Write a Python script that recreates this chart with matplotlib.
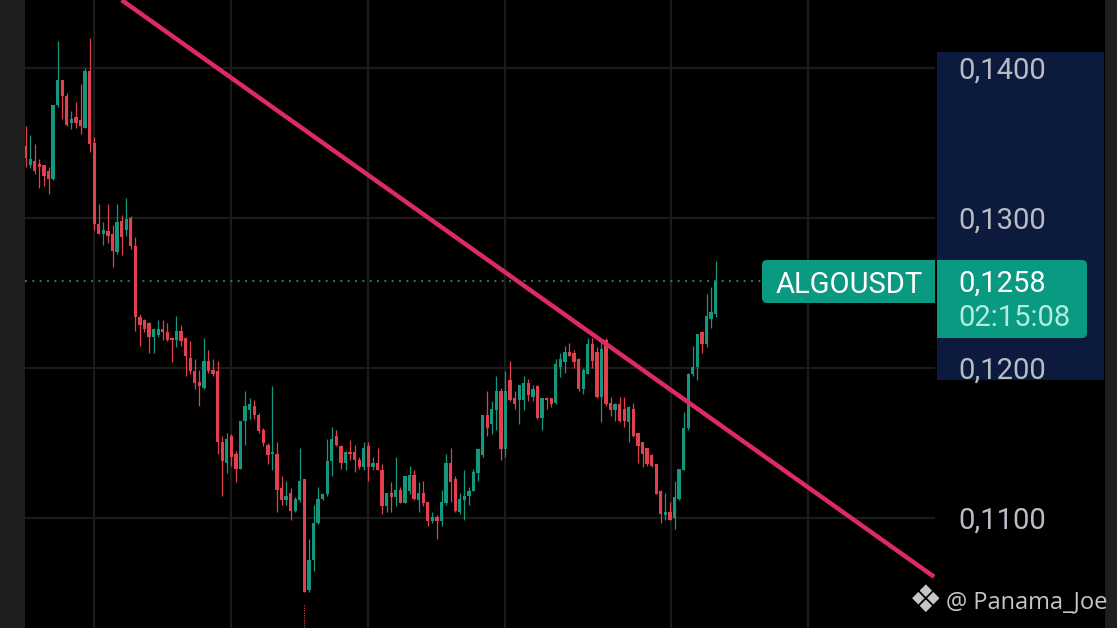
import matplotlib
matplotlib.use("Agg")
import matplotlib.pyplot as plt
from matplotlib.patches import Rectangle, FancyBboxPatch
from matplotlib.transforms import IdentityTransform
import numpy as np

# ---------------- data ----------------
symbol = "ALGOUSDT"
countdown = "02:15:08"
watermark = "@ Panama_Joe"

opens = [0.1348,0.1335,0.1338,0.1336,0.1335,0.1331,0.1326,0.1375,0.1392,0.1381,
         0.1363,0.1367,0.1365,0.1360,0.1398,0.1350,0.1296,0.1289,0.1291,0.1289,
         0.1277,0.1298,0.1292,0.1300,0.1281,0.1234,0.1232,0.1230,0.1221,0.1222,
         0.1226,0.1224,0.1220,0.1219,0.1225,0.1220,0.1207,0.1198,0.1191,0.1187,
         0.1205,0.1199,0.1198,0.1151,0.1137,0.1155,0.1143,0.1133,0.1165,0.1172,
         0.1175,0.1169,0.1159,0.1149,0.1143,0.1143,0.1120,0.1112,0.1117,0.1105,
         0.1112,0.1126,0.1052,0.1072,0.1097,0.1113,0.1116,0.1138,0.1155,0.1148,
         0.1137,0.1144,0.1144,0.1139,0.1134,0.1148,0.1134,0.1137,0.1132,0.1108,
         0.1117,0.1114,0.1119,0.1110,0.1118,0.1129,0.1112,0.1117,0.1111,0.1098,
         0.1101,0.1098,0.1110,0.1137,0.1126,0.1104,0.1112,0.1115,0.1118,0.1130,
         0.1142,0.1169,0.1163,0.1172,0.1185,0.1146,0.1192,0.1180,0.1179,0.1179,
         0.1190,0.1181,0.1188,0.1167,0.1180,0.1180,0.1177,0.1201,0.1204,0.1211,
         0.1210,0.1206,0.1186,0.1196,0.1216,0.1211,0.1181,0.1219,0.1177,0.1172,
         0.1176,0.1173,0.1164,0.1173,0.1157,0.1151,0.1147,0.1142,0.1136,0.1118,
         0.1102,0.1104,0.1100,0.1113,0.1132,0.1160,0.1196,0.1201,0.1224,0.1216,
         0.1233,0.1236]
highs = [0.1361,0.1355,0.1349,0.1339,0.1335,0.1334,0.1375,0.1418,0.1392,0.1383,
         0.1371,0.1377,0.1389,0.1400,0.1420,0.1354,0.1309,0.1297,0.1309,0.1295,
         0.1309,0.1302,0.1313,0.1301,0.1287,0.1236,0.1233,0.1231,0.1227,0.1232,
         0.1232,0.1230,0.1220,0.1235,0.1229,0.1221,0.1218,0.1206,0.1199,0.1220,
         0.1212,0.1206,0.1205,0.1155,0.1157,0.1156,0.1145,0.1165,0.1185,0.1180,
         0.1179,0.1170,0.1160,0.1150,0.1188,0.1151,0.1128,0.1125,0.1120,0.1114,
         0.1147,0.1126,0.1086,0.1109,0.1121,0.1117,0.1153,0.1161,0.1159,0.1149,
         0.1145,0.1152,0.1149,0.1141,0.1151,0.1151,0.1141,0.1147,0.1136,0.1117,
         0.1124,0.1141,0.1121,0.1128,0.1135,0.1132,0.1124,0.1125,0.1111,0.1104,
         0.1102,0.1119,0.1143,0.1147,0.1128,0.1117,0.1132,0.1121,0.1133,0.1147,
         0.1169,0.1185,0.1178,0.1195,0.1187,0.1198,0.1205,0.1185,0.1189,0.1195,
         0.1193,0.1189,0.1189,0.1180,0.1181,0.1180,0.1206,0.1210,0.1215,0.1217,
         0.1212,0.1207,0.1200,0.1220,0.1220,0.1214,0.1219,0.1220,0.1181,0.1177,
         0.1181,0.1181,0.1175,0.1177,0.1157,0.1151,0.1147,0.1143,0.1136,0.1119,
         0.1117,0.1111,0.1125,0.1133,0.1171,0.1197,0.1215,0.1223,0.1225,0.1249,
         0.1254,0.1271]
lows = [0.1334,0.1333,0.1329,0.1320,0.1321,0.1316,0.1325,0.1374,0.1366,0.1361,
        0.1359,0.1360,0.1356,0.1360,0.1344,0.1292,0.1289,0.1282,0.1283,0.1267,
        0.1276,0.1275,0.1288,0.1279,0.1225,0.1215,0.1224,0.1210,0.1210,0.1221,
        0.1219,0.1218,0.1204,0.1214,0.1215,0.1195,0.1196,0.1186,0.1175,0.1186,
        0.1197,0.1195,0.1143,0.1115,0.1130,0.1135,0.1124,0.1133,0.1149,0.1166,
        0.1166,0.1157,0.1148,0.1136,0.1132,0.1104,0.1109,0.1109,0.1099,0.1104,
        0.1111,0.1051,0.1051,0.1065,0.1096,0.1112,0.1115,0.1128,0.1148,0.1133,
        0.1132,0.1139,0.1131,0.1133,0.1132,0.1125,0.1132,0.1132,0.1103,0.1104,
        0.1104,0.1108,0.1110,0.1110,0.1116,0.1112,0.1104,0.1108,0.1095,0.1097,
        0.1086,0.1095,0.1109,0.1111,0.1104,0.1103,0.1099,0.1109,0.1118,0.1125,
        0.1141,0.1155,0.1156,0.1159,0.1139,0.1141,0.1178,0.1173,0.1163,0.1172,
        0.1178,0.1178,0.1166,0.1159,0.1173,0.1174,0.1176,0.1194,0.1197,0.1208,
        0.1200,0.1185,0.1183,0.1196,0.1200,0.1180,0.1164,0.1175,0.1168,0.1165,
        0.1164,0.1161,0.1151,0.1154,0.1137,0.1134,0.1135,0.1134,0.1116,0.1097,
        0.1099,0.1099,0.1093,0.1112,0.1132,0.1159,0.1195,0.1192,0.1210,0.1214,
        0.1227,0.1234]
closes = [0.1340,0.1339,0.1331,0.1334,0.1328,0.1326,0.1375,0.1392,0.1381,0.1362,
          0.1366,0.1363,0.1361,0.1398,0.1349,0.1296,0.1289,0.1292,0.1288,0.1278,
          0.1297,0.1287,0.1299,0.1281,0.1234,0.1229,0.1226,0.1221,0.1226,0.1226,
          0.1224,0.1219,0.1219,0.1225,0.1218,0.1208,0.1198,0.1190,0.1188,0.1205,
          0.1198,0.1196,0.1151,0.1138,0.1153,0.1141,0.1133,0.1165,0.1175,0.1176,
          0.1169,0.1158,0.1150,0.1142,0.1144,0.1119,0.1112,0.1115,0.1105,0.1113,
          0.1125,0.1051,0.1072,0.1097,0.1113,0.1116,0.1138,0.1153,0.1149,0.1137,
          0.1144,0.1143,0.1139,0.1134,0.1147,0.1134,0.1137,0.1132,0.1108,0.1117,
          0.1114,0.1119,0.1110,0.1128,0.1129,0.1113,0.1117,0.1110,0.1098,0.1101,
          0.1098,0.1111,0.1137,0.1124,0.1105,0.1113,0.1115,0.1118,0.1131,0.1146,
          0.1169,0.1160,0.1173,0.1185,0.1146,0.1185,0.1179,0.1176,0.1189,0.1190,
          0.1182,0.1186,0.1167,0.1180,0.1179,0.1176,0.1203,0.1206,0.1211,0.1208,
          0.1204,0.1186,0.1199,0.1216,0.1205,0.1181,0.1213,0.1176,0.1172,0.1176,
          0.1165,0.1165,0.1174,0.1155,0.1148,0.1143,0.1136,0.1135,0.1116,0.1103,
          0.1104,0.1099,0.1114,0.1133,0.1160,0.1196,0.1201,0.1223,0.1216,0.1235,
          0.1237,0.1258]

price_ticks = [0.1400, 0.1300, 0.1200, 0.1100]
price_tick_labels = ["0,1400", "0,1300", "0,1200", "0,1100"]
time_grid = [15, 45, 75, 105, 141.2, 171.2]       # vertical grid positions (bar index)
trend_x = [21.0, 198.8]                            # bar index of trendline anchors
trend_y = [0.14453, 0.10608]                       # prices of trendline anchors
range_top, range_bottom = 0.14106, 0.1192          # highlighted price range on axis
marker_bar, marker_top = 61, 0.1042                # dotted vertical marker
last_price = closes[-1]
last_label = "0,1258"

# ---------------- style ----------------
W, H = 1117, 628
BG = "#000000"
UP, DOWN = "#14977e", "#e2404f"
GRID = "#1b1b1b"
AXTXT = "#b8bcc4"
LABEL_BG = "#0a9981"
TREND = "#de2a63"

YMIN, YMAX = 0.102667, 0.144533
XMIN, XMAX = -0.15, 199.0
AX_L, AX_R = 25, 935

fig = plt.figure(figsize=(W / 100, H / 100), dpi=100, facecolor=BG)
ax = fig.add_axes([AX_L / W, 0, (AX_R - AX_L) / W, 1])
ax.set_facecolor(BG)
ax.set_xlim(XMIN, XMAX)
ax.set_ylim(YMIN, YMAX)
ax.set_axis_off()

def py(p):
    """price -> display pixel y (from bottom)"""
    return (p - YMIN) / (YMAX - YMIN) * H

# grid
for p in price_ticks:
    ax.axhline(p, color=GRID, lw=1.6, zorder=0)
for t in time_grid:
    ax.axvline(t, color=GRID, lw=1.6, zorder=0)

# candles
o = np.array(opens); h = np.array(highs); l = np.array(lows); c = np.array(closes)
x = np.arange(len(o))
cols = np.where(c >= o, UP, DOWN)
ax.vlines(x, l, h, colors=cols, lw=0.9, zorder=2)
bottoms = np.minimum(o, c)
heights = np.maximum(np.abs(c - o), 0.00009)
ax.bar(x, heights, bottom=bottoms, width=0.72, color=cols, linewidth=0, zorder=3)

# dotted marker
ax.vlines(marker_bar, YMIN, marker_top, colors=DOWN, linestyles=(0, (1, 1.2)), lw=0.8, zorder=2)

# last price dotted line
ax.axhline(last_price, xmin=0, xmax=(762 - AX_L) / (AX_R - AX_L), color="#1e8f7a",
           lw=1.2, linestyle=(0, (1.2, 3.2)), zorder=1)

# trendline
ax.plot(trend_x, trend_y, color=TREND, lw=3.2, solid_capstyle="butt", zorder=4)

ident = IdentityTransform()

def rect(x0, y0, w, h_, color, z):
    fig.patches.append(Rectangle((x0, y0), w, h_, transform=ident, facecolor=color,
                                 edgecolor="none", linewidth=0, zorder=z))

def rbox(x0, y0, w, h_, color, z):
    fig.patches.append(FancyBboxPatch((x0, y0), w, h_, boxstyle="round,pad=0,rounding_size=5",
                                      transform=ident, facecolor=color, edgecolor="none",
                                      linewidth=0, zorder=z))

# side strips
rect(0, 0, AX_L, H, "#1e1e1e", 5)
rect(1105, 0, W - 1105, H, "#1e1e1e", 5)

# highlighted range on price axis
yb, yt = py(range_bottom), py(range_top)
rect(937, yb, 1104 - 937, yt - yb, "#0c1a3e", 1)

# price tick labels
for p, lab in zip(price_ticks, price_tick_labels):
    fig.text(958, py(p), lab, transform=ident, ha="left", va="center_baseline",
             fontsize=21, family="Roboto", color=AXTXT, zorder=6)

# last-price labels
yl = py(last_price)
# symbol box (rounded left, square right)
rbox(762, yl - 22, 935 - 762, 43, LABEL_BG, 6)
rect(900, yl - 22, 35, 43, LABEL_BG, 6)
fig.text(849, yl - 1, symbol, transform=ident, ha="center", va="center_baseline",
         fontsize=21, family="Roboto", color="white", zorder=7)
# price box (square left, rounded right)
rbox(937, yl - 57, 1087 - 937, 78, LABEL_BG, 6)
rect(937, yl - 57, 40, 78, LABEL_BG, 6)
fig.text(958, yl, last_label, transform=ident, ha="left", va="center_baseline",
         fontsize=21, family="Roboto", color="white", zorder=7)
fig.text(958, yl - 34, countdown, transform=ident, ha="left", va="center_baseline",
         fontsize=21, family="Roboto", color="#b4ecdf", zorder=7)

# watermark
fig.text(1107, H - 602, watermark, transform=ident, ha="right", va="center",
         fontsize=17, family="Open Sans", color="#c6c6c6", zorder=7)
fig.text(926, H - 602, "\u2756", transform=ident, ha="center", va="center",
         fontsize=27, family="DejaVu Sans", color="#c6c6c6", zorder=7)

fig.savefig("out.png", dpi=100, facecolor=BG)
